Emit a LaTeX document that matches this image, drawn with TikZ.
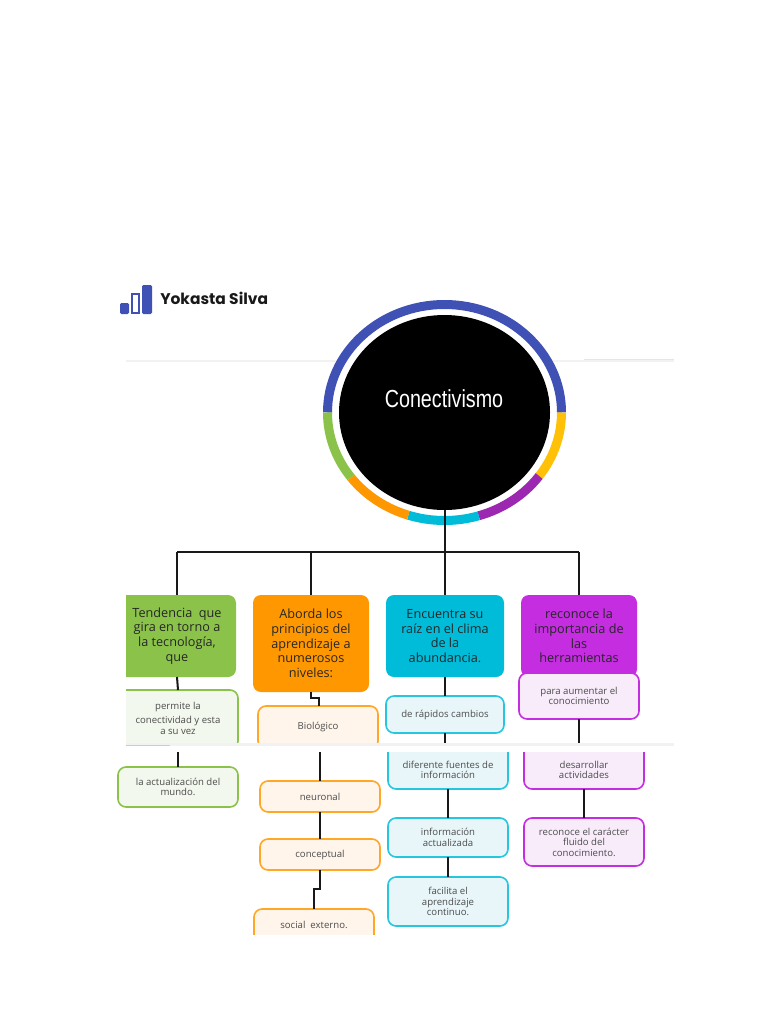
\documentclass[tikz,border=0pt]{standalone}
\usepackage{graphicx}
\usepackage{fontspec}
\setmainfont{Open Sans}
\newfontfamily\namefont{Poppins}
\newfontfamily\titlefont{Liberation Sans}
\usetikzlibrary{shapes.geometric}
\definecolor{cblue}{HTML}{3F51B5}
\definecolor{cyellow}{HTML}{FFC107}
\definecolor{cpurple}{HTML}{9C27B0}
\definecolor{ccyan}{HTML}{00BCD9}
\definecolor{corange}{HTML}{FF9800}
\definecolor{cgreen}{HTML}{8BC34A}
\definecolor{cmag}{HTML}{C42DE0}
\definecolor{bgreen}{HTML}{F3F8EE}
\definecolor{borange}{HTML}{FFF5EB}
\definecolor{bcyan}{HTML}{E8F6FA}
\definecolor{bmag}{HTML}{F8ECFB}
\definecolor{rulegrey}{HTML}{F2F2F2}
\newcommand\bx[7]{\node[#1,minimum width={(#5-#3)*0.75pt},minimum height={(#6-#4)*0.75pt}] (#2) at ({(#3+#5)/2},{(#4+#6)/2}) {#7};}
\newcommand\ringarc[3]{\draw[ring,#1] ([shift={(#2:87.75pt and 81pt)}]c) arc[start angle=#2,end angle=#3,x radius=87.75pt,y radius=81pt];}
\tikzset{
  x=0.75pt,y=-0.75pt,
  ring/.style={line width=6.75pt},
  mainbox/.style={rectangle,rounded corners=6pt,inner sep=0pt,outer sep=0pt,align=center,text=black!85,font=\fontsize{9.5}{11}\selectfont},
  subbox/.style={rectangle,rounded corners=6pt,inner sep=0pt,outer sep=0pt,align=center,line width=1.2pt,text=black!70,font=\fontsize{7.2}{7.9}\selectfont},
  gsub/.style={subbox,draw=cgreen,fill=bgreen},
  osub/.style={subbox,draw=corange!85!white,fill=borange},
  csub/.style={subbox,draw=ccyan!85!white,fill=bcyan},
  msub/.style={subbox,draw=cmag,fill=bmag},
  link/.style={line width=1.5pt,black!90},
  cover/.style={fill=white,draw=none},
}
\begin{document}
\begin{tikzpicture}
\useasboundingbox (0,0) rectangle (768,1024);
\fill[white] (0,0) rectangle (768,1024);
% header rule
\fill[rulegrey] (126,360) rectangle (674,362);
\fill[black!10] (584,358.5) rectangle (674,360);
% logo
\fill[cblue,rounded corners=1pt] (120,303) rectangle (129,314);
\draw[cblue,line width=1.8pt] (132,294) rectangle (139,313);
\fill[cblue,rounded corners=1pt] (142,285) rectangle (152,314);
\node[font=\namefont\bfseries\fontsize{11.6}{14}\selectfont,text=black!90,inner sep=0pt,anchor=west] (author) at (160,298) {Yokasta Silva};
% circle
\coordinate (c) at (444.5,412.5);
\fill[white] (c) ellipse [x radius=91pt,y radius=84pt];
\ringarc{cblue}{180}{0}
\ringarc{cyellow}{0}{-36}
\ringarc{cpurple}{-36}{-73}
\ringarc{ccyan}{-73}{-108}
\ringarc{corange}{-108}{-143}
\ringarc{cgreen}{-143}{-180}
\node[ellipse,fill=black,inner sep=0pt,outer sep=0pt,minimum width=158.25pt,minimum height=146.25pt] (root) at (c) {};
\node[text=white,inner sep=0pt] (title) at (444,399) {\scalebox{0.8}[1]{\titlefont\fontsize{18.5}{20}\selectfont Conectivismo}};
% main boxes
\bx{mainbox,fill=cgreen}{mg}{118}{595}{236}{677}{Tendencia\ \ que\\gira en torno a\\la tecnología,\\que}
\bx{mainbox,fill=corange}{mo}{253}{595}{369}{692}{Aborda los\\principios del\\aprendizaje a\\numerosos\\niveles:}
\bx{mainbox,fill=ccyan}{mc}{386}{595}{504}{677}{Encuentra su\\raíz en el clima\\de la\\abundancia.}
\bx{mainbox,fill=cmag}{mm}{521}{595}{637}{677}{reconoce la\\importancia de\\las\\herramientas}
% sub boxes
\bx{gsub}{g1}{118}{690}{238}{749}{\raisebox{1.5pt}{\shortstack{permite la\\conectividad y esta\\a su vez}}}
\bx{gsub}{g2}{118}{767}{238}{807}{la actualización del\\mundo.}
\bx{osub}{o1}{258}{706}{378}{749}{\raisebox{3pt}{Biológico}}
\bx{osub}{o2}{260}{781}{380}{812}{neuronal}
\bx{osub}{o3}{260}{839}{380}{870}{conceptual}
\bx{osub}{o4}{254}{909}{374}{945}{\raisebox{2.5pt}{social\ \ externo.}}
\bx{csub}{c1}{386}{696}{504}{733}{de rápidos cambios}
\bx{csub}{c2}{388}{744}{508}{789}{\rule{0pt}{5pt}\\[-2pt]diferente fuentes de\\información}
\bx{csub}{c3}{388}{818}{508}{857}{información\\actualizada}
\bx{csub}{c4}{388}{877}{508}{926}{facilita el\\aprendizaje\\continuo.}
\bx{msub}{m1}{519}{673}{639}{719}{para aumentar el\\conocimiento}
\bx{msub}{m2}{524}{744}{644}{789}{\rule{0pt}{5pt}\\[-2pt]desarrollar\\actividades}
\bx{msub}{m3}{524}{818}{644}{866}{reconoce el carácter\\fluido del\\conocimiento.}
% connectors
\coordinate (bus) at (445,552);
\draw[link] (mc.north |- root.south) -- (mc.north);
\draw[link] (mg.north |- bus) -- (mm.north |- bus);
\draw[link] (mg.north |- bus) -- (mg.north);
\draw[link] (mo.north |- bus) -- (mo.north);
\draw[link] (mm.north |- bus) -- (mm.north);
\draw[link] (mg.south) -- (g1.north);
\draw[link] (g1.south) -- (g2.north);
\coordinate (ok) at (319,698);
\draw[link] (mo.south) |- (ok) -- (ok |- o1.north);
\draw[link] (o2.north |- o1.south) -- (o2.north);
\draw[link] (o2.south) -- (o3.north);
\coordinate (sk) at (314,889);
\draw[link] (o3.south) |- (sk) -- (sk |- o4.north);
\draw[link] (mc.south) -- (c1.north);
\draw[link] (c1.south) -- (c1.south |- c2.north);
\draw[link] (c2.south) -- (c3.north);
\draw[link] (c3.south) -- (c4.north);
\draw[link] (m1.south) -- (m1.south |- m2.north);
\draw[link] (m2.south) -- (m3.north);
% page band, margins
\fill[cover] (100,585) rectangle (126,748);
\fill[cover] (100,745) rectangle (690,752);
\fill[rulegrey] (126,743) rectangle (674,745.5);
\fill[black!20] (126,744.5) rectangle (170,745.5);
\fill[cover] (240,935) rectangle (400,960);
\end{tikzpicture}
\end{document}
